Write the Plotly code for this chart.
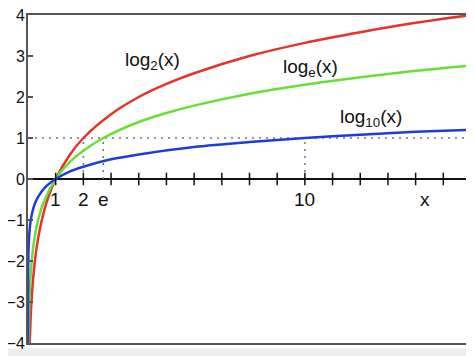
import plotly.graph_objects as go

# ---- data ----
log2_x = [0.0625, 0.09, 0.125, 0.18, 0.25, 0.35, 0.5, 0.7, 1, 1.5, 2, 3, 4, 5, 6, 8, 10, 12, 14, 16]
log2_y = [-4.0, -3.47, -3.0, -2.47, -2.0, -1.51, -1.0, -0.51, 0.0, 0.58, 1.0, 1.58, 2.0, 2.32, 2.58, 3.0, 3.32, 3.58, 3.81, 4.0]

ln_x = [0.0183, 0.03, 0.05, 0.08, 0.135, 0.22, 0.37, 0.6, 1, 1.5, 2, 2.718, 4, 5, 6, 8, 10, 12, 14, 16]
ln_y = [-4.0, -3.51, -3.0, -2.53, -2.0, -1.51, -0.99, -0.51, 0.0, 0.41, 0.69, 1.0, 1.39, 1.61, 1.79, 2.08, 2.3, 2.48, 2.64, 2.77]

log10_x = [0.0001, 0.001, 0.01, 0.03, 0.1, 0.2, 0.3, 0.5, 0.7, 1, 1.5, 2, 3, 4, 6, 8, 10, 12, 14, 16]
log10_y = [-4.0, -3.0, -2.0, -1.52, -1.0, -0.7, -0.52, -0.3, -0.15, 0.0, 0.18, 0.3, 0.48, 0.6, 0.78, 0.9, 1.0, 1.08, 1.15, 1.2]

ref_x = [2, 2.718, 10]          # dotted verticals up to y=1
ref_y = 1
zero_ticks = list(range(1, 16))
x_tick_vals = [1, 2, 2.718, 10, 14.35]
x_tick_text = ["1", "2", "e", "10", "x"]
y_ticks = [-4, -3, -2, -1, 0, 1, 2, 3, 4]

curve_labels = [
    ("log<sub>2</sub>(x)", 4.5, 2.87),
    ("log<sub>e</sub>(x)", 10.2, 2.70),
    ("log<sub>10</sub>(x)", 12.4, 1.50),
]

FONT = "Liberation Sans, Arial, sans-serif"
fig = go.Figure()

# dotted reference lines
fig.add_trace(go.Scatter(x=[0, 16], y=[ref_y, ref_y], mode="lines",
                         line=dict(color="#777777", width=1.5, dash="2px,5px"),
                         hoverinfo="skip", showlegend=False))
for rx in ref_x:
    fig.add_trace(go.Scatter(x=[rx, rx], y=[0, ref_y], mode="lines",
                             line=dict(color="#777777", width=1.5, dash="2px,5px"),
                             hoverinfo="skip", showlegend=False))

# curves
for xs, ys, col in [(log2_x, log2_y, "#e3332b"),
                    (ln_x, ln_y, "#6ade38"),
                    (log10_x, log10_y, "#1c3ce0")]:
    fig.add_trace(go.Scatter(x=xs, y=ys, mode="lines",
                             line=dict(color=col, width=2.5, shape="spline", smoothing=0.8),
                             showlegend=False))

# ticks on the zero line
fig.add_trace(go.Scatter(x=zero_ticks, y=[0] * len(zero_ticks), mode="markers",
                         marker=dict(symbol="line-ns-open", size=9, color="#111111",
                                     line=dict(color="#111111", width=1.5)),
                         hoverinfo="skip", showlegend=False))

annotations = []
for txt, xv in zip(x_tick_text, x_tick_vals):
    annotations.append(dict(x=xv, y=-0.5, text=txt, showarrow=False,
                            font=dict(family=FONT, size=19, color="#111111")))
for txt, xv, yv in curve_labels:
    annotations.append(dict(x=xv, y=yv, text=txt, showarrow=False,
                            font=dict(family=FONT, size=19, color="#111111")))

shapes = [
    dict(type="rect", xref="paper", yref="paper", x0=-0.1, x1=1.1,
         y0=-0.045, y1=-0.016, fillcolor="#eeeeee", line=dict(width=0), layer="below"),
]

# page body has an 8px margin; size the figure so the plot box lands where the reference has it
fig.update_layout(
    width=466, height=348,
    margin=dict(l=20, r=3, t=7, b=13, autoexpand=False),
    paper_bgcolor="white", plot_bgcolor="white",
    annotations=annotations, shapes=shapes,
    showlegend=False,
    xaxis=dict(range=[0, 16], showgrid=False, zeroline=False, automargin=False,
               showline=True, linecolor="#555555", linewidth=2, mirror=True,
               ticks="", showticklabels=False),
    yaxis=dict(range=[-4, 4], tickvals=y_ticks, showgrid=False, automargin=False,
               zeroline=True, zerolinecolor="#111111", zerolinewidth=2,
               showline=True, linecolor="#555555", linewidth=2, mirror="ticks",
               ticks="inside", ticklen=5, tickwidth=1.5, tickcolor="#555555",
               ticklabelstandoff=-2, ticklabeloverflow="allow",
               tickfont=dict(family=FONT, size=16, color="#111111")),
)

fig.write_html("out.html")
